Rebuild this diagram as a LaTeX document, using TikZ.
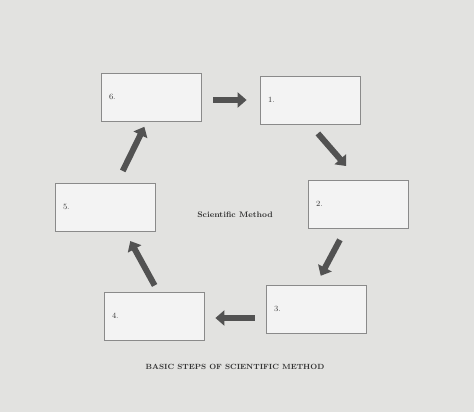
\documentclass[tikz,border=0pt]{standalone}
\usepackage{tikz}
\usetikzlibrary{arrows.meta}
\definecolor{paper}{HTML}{E2E2E0}
\definecolor{ink}{HTML}{333333}
\definecolor{frame}{HTML}{8A8A8A}
\tikzset{stepbox/.style={draw=frame,line width=0.8pt,fill=white!60!paper,
		text width=84pt,inner xsep=8pt,minimum height=48pt,align=left,
		text=ink,font=\footnotesize},
	bigarrow/.style={draw=ink!85,line width=6pt,
		-{Triangle[width=15pt,length=9pt]}},
	caption/.style={text=ink,font=\bfseries}}

\begin{document}
\begin{tikzpicture}[x=1pt,y=-1pt]
\fill[paper] (0,0) rectangle (474,412);
\useasboundingbox (0,0) rectangle (474,412);
\node [stepbox] (six) at (151,97) {6.};
\node [stepbox] (one) at (310,100) {1.};
\node [stepbox] (two) at (358,204) {2.};
\node [stepbox] (three) at (316,309) {3.};
\node [stepbox] (four) at (154,316) {4.};
\node [stepbox] (five) at (105,207) {5.};
\node [caption,font=\bfseries\fontsize{8}{9}\selectfont] (title) at (235,215) {Scientific Method};
\node [caption,font=\bfseries\fontsize{7.5}{9}\selectfont] (bottom) at (235,367) {BASIC STEPS OF SCIENTIFIC METHOD};
\draw [bigarrow,shorten <=12pt,shorten >=13pt] ([yshift=-3pt]six.east) -- (one.west);
\draw [bigarrow,shorten <=12pt,shorten >=18pt] (one.south) -- (two.north);
\draw [bigarrow,shorten <=13pt,shorten >=10pt] ([xshift=-12pt]two.south) -- (three.north);
\draw [bigarrow,shorten <=11pt,shorten >=11pt] ([yshift=-9pt]three.west) -- ([yshift=-2pt]four.east);
\draw [bigarrow,shorten <=7pt,shorten >=11pt] ([xshift=4pt]four.north) -- ([xshift=20pt]five.south);
\draw [bigarrow,shorten <=13pt,shorten >=6pt] ([xshift=12pt]five.north) -- ([xshift=-4pt]six.south);
\end{tikzpicture}
\end{document}
